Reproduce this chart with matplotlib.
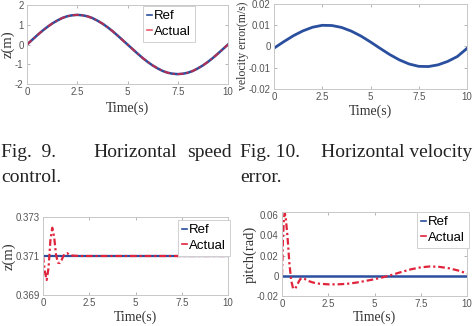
import matplotlib
matplotlib.use("Agg")
import matplotlib.pyplot as plt

W, H = 474, 326

# Fig. 9 : horizontal position, ref vs actual
t_sine = [0, 0.25, 0.5, 0.75, 1.0, 1.25, 1.5, 1.75, 2.0, 2.25, 2.5, 2.75, 3.0, 3.25, 3.5,
          3.75, 4.0, 4.25, 4.5, 4.75, 5.0, 5.25, 5.5, 5.75, 6.0, 6.25, 6.5, 6.75, 7.0,
          7.25, 7.5, 7.75, 8.0, 8.25, 8.5, 8.75, 9.0, 9.25, 9.5, 9.75, 10.0]
z_ref = [0, 0.23, 0.46, 0.68, 0.88, 1.06, 1.21, 1.34, 1.43, 1.48, 1.50, 1.48, 1.43, 1.34,
         1.21, 1.06, 0.88, 0.68, 0.46, 0.23, 0, -0.23, -0.46, -0.68, -0.88, -1.06, -1.21,
         -1.34, -1.43, -1.48, -1.50, -1.48, -1.43, -1.34, -1.21, -1.06, -0.88, -0.68,
         -0.46, -0.23, 0]
z_act = z_ref

# Fig. 10 : horizontal velocity error
t_verr = [0, 0.5, 1.0, 1.5, 2.0, 2.5, 3.0, 3.5, 4.0, 4.5, 5.0, 5.5, 6.0, 6.5, 7.0, 7.5,
          8.0, 8.5, 9.0, 9.5, 10.0]
v_err = [-0.0009, 0.0021, 0.0049, 0.0072, 0.0089, 0.0098, 0.0097, 0.0088, 0.0071, 0.0048,
         0.0020, -0.0010, -0.0039, -0.0064, -0.0083, -0.0094, -0.0095, -0.0087, -0.0071,
         -0.0048, -0.0010]

# height hold
t_h = [0, 10]
h_ref = [0.371, 0.371]
t_h_act = [0, 0.1, 0.2, 0.3, 0.4, 0.5, 0.6, 0.7, 0.8, 0.9, 1.0, 1.1, 1.2, 1.3, 1.4, 1.6,
           2.0, 10.0]
h_act = [0.3710, 0.3702, 0.36977, 0.3704, 0.3718, 0.37245, 0.3720, 0.3711, 0.37066,
         0.37064, 0.37078, 0.37100, 0.37112, 0.37115, 0.37108, 0.37102, 0.37100, 0.37100]

# pitch
t_p = [0, 10]
p_ref = [0, 0]
t_p_act = [0, 0.05, 0.1, 0.15, 0.2, 0.3, 0.4, 0.5, 0.6, 0.7, 0.8, 0.9, 1.0, 1.1, 1.2, 1.4,
           1.7, 2.0, 2.5, 3.0, 3.5, 4.0, 4.5, 5.0, 5.5, 6.0, 6.5, 7.0, 7.5, 8.0, 8.5, 9.0,
           9.5, 10.0]
p_act = [0, 0.035, 0.056, 0.062, 0.058, 0.038, 0.012, -0.005, -0.0125, -0.013, -0.010,
         -0.006, -0.003, -0.0022, -0.0028, -0.0050, -0.0068, -0.0078, -0.0085, -0.0085,
         -0.0080, -0.0068, -0.0052, -0.0034, -0.0013, 0.0012, 0.0040, 0.0065, 0.0083,
         0.0092, 0.0088, 0.0075, 0.0053, 0.0023]

BLUE = "#2a4f9e"
RED = "#e0243c"
GRAY = "#555555"
SERIF = ["Liberation Serif", "DejaVu Serif"]
SANS = ["Liberation Sans", "DejaVu Sans"]
DASHDOT = (3, 1.3, 1, 1.3)


def px_axes(fig, left, right, top, bottom):
    return fig.add_axes([left / W, 1 - bottom / H, (right - left) / W, (bottom - top) / H])


def style_axes(ax, xticks, xlabels, yticks, ylabels, ylim, ylab, ylab_size=10.5, xpad=3):
    ax.set_xlim(0, 10)
    ax.set_ylim(*ylim)
    ax.set_xticks(xticks)
    ax.set_xticklabels(xlabels, family=SANS, fontsize=7, color=GRAY)
    ax.set_yticks(yticks)
    ax.set_yticklabels(ylabels, family=SANS, fontsize=7, color=GRAY)
    ax.tick_params(direction="in", length=2, width=0.5, color="#999999", pad=2.5,
                   top=True, right=True)
    for s in ax.spines.values():
        s.set_color("#c8c8c8")
        s.set_linewidth(0.7)
    ax.set_xlabel("Time(s)", family=SERIF, fontsize=10, color="#333333", labelpad=xpad)
    ax.set_ylabel(ylab, family=SERIF, fontsize=ylab_size, color="#333333", labelpad=0)


def add_legend(fig, ax, x, y):
    leg = ax.legend(loc="upper left", bbox_to_anchor=(x / W, 1 - y / H),
                    bbox_transform=fig.transFigure, borderaxespad=0,
                    prop={"family": SANS, "size": 9.5}, handlelength=0.4,
                    handletextpad=0.15, borderpad=0.3, labelspacing=0.25,
                    fancybox=False, framealpha=1, edgecolor="#d0d0d0")
    leg.get_frame().set_linewidth(0.7)
    for line in leg.get_lines():
        line.set_linestyle("-")
        line.set_linewidth(1.2)
    return leg


fig = plt.figure(figsize=(W / 100, H / 100), dpi=100)

tx = [0, 2.5, 5, 7.5, 10]
txl = ["0", "2.5", "5", "7.5", "10"]

# Fig. 9
ax1 = px_axes(fig, 27, 228, 5, 84)
ax1.plot(t_sine, z_ref, color=BLUE, lw=1.8, label="Ref")
ax1.plot(t_sine, z_act, color=RED, lw=1.5, dashes=DASHDOT, alpha=0.75, label="Actual")
style_axes(ax1, tx, txl, [-2, -1, 0, 1, 2], ["-2", "-1", "0", "1", "2"], (-2, 2), "z(m)")
add_legend(fig, ax1, 143, 6)

# Fig. 10
ax2 = px_axes(fig, 274, 467, 3.5, 89)
ax2.plot(t_verr, v_err, color=BLUE, lw=2)
style_axes(ax2, tx, txl, [-0.02, -0.01, 0, 0.01, 0.02],
           ["-0.02", "-0.01", "0", "0.01", "0.02"], (-0.02, 0.02),
           "velocity error(m/s)", ylab_size=8.5, xpad=1.5)

# height
ax3 = px_axes(fig, 43, 228, 217, 295)
ax3.plot(t_h, h_ref, color=BLUE, lw=1.6, label="Ref")
ax3.plot(t_h_act, h_act, color=RED, lw=1.6, dashes=DASHDOT, label="Actual")
style_axes(ax3, tx, txl, [0.369, 0.371, 0.373], ["0.369", "0.371", "0.373"],
           (0.369, 0.373), "z(m)", xpad=1.5)
add_legend(fig, ax3, 178, 220)

# pitch
ax4 = px_axes(fig, 282, 467, 212, 296)
ax4.plot(t_p, p_ref, color=BLUE, lw=1.8, label="Ref")
ax4.plot(t_p_act, p_act, color=RED, lw=1.6, dashes=DASHDOT, label="Actual")
style_axes(ax4, tx, txl, [-0.02, 0, 0.02, 0.04, 0.06],
           ["-0.02", "0", "0.02", "0.04", "0.06"], (-0.02, 0.063), "pitch(rad)", xpad=1)
add_legend(fig, ax4, 417, 212)

# captions
cap = dict(family=SERIF, fontsize=14, color="#222222", va="baseline")
fig.text(1 / W, 1 - 157 / H, "Fig.  9.", ha="left", **cap)
fig.text(93 / W, 1 - 157 / H, "Horizontal", ha="left", **cap)
fig.text(232 / W, 1 - 157 / H, "speed", ha="right", **cap)
fig.text(1 / W, 1 - 182 / H, "control.", ha="left", **cap)
fig.text(240 / W, 1 - 157 / H, "Fig. 10.", ha="left", **cap)
fig.text(472 / W, 1 - 157 / H, "Horizontal velocity", ha="right", **cap)
fig.text(240 / W, 1 - 182 / H, "error.", ha="left", **cap)

fig.savefig("out.png", dpi=100)
